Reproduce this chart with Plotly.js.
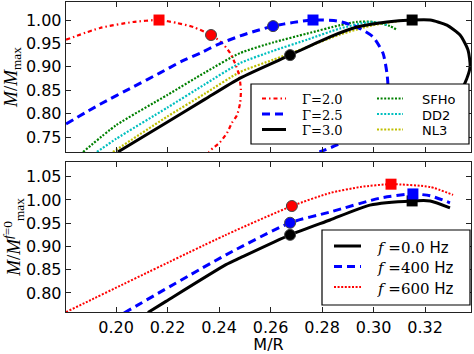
<!DOCTYPE html>
<html>
<head>
<meta charset="utf-8">
<script src="https://cdn.plot.ly/plotly-3.0.1.min.js"></script>
<style>html,body{margin:0;padding:0;background:#fff;}#chart{width:474px;height:354px;}</style>
</head>
<body>
<div id="chart"></div>
<script>
// ---------- data: top panel (M/Mmax vs compactness) ----------
const g20X = [0.1806, 0.1938, 0.2066, 0.2167, 0.2237, 0.2300, 0.2369, 0.2412, 0.2443, 0.2462, 0.2478, 0.2485, 0.2482, 0.2470, 0.2450, 0.2431, 0.2404, 0.2377, 0.2360];
const g20Y = [0.958, 0.983, 0.9957, 1.000, 0.9936, 0.985, 0.968, 0.951, 0.9295, 0.908, 0.8825, 0.850, 0.8226, 0.797, 0.780, 0.7585, 0.739, 0.7265, 0.718];
const g25X = [0.1806, 0.1938, 0.2066, 0.2171, 0.2252, 0.2330, 0.2392, 0.2482, 0.2545, 0.2610, 0.2690, 0.2765, 0.2858, 0.2936, 0.2998, 0.3037, 0.3052, 0.3056, 0.3050, 0.3020, 0.2960, 0.2858, 0.2790];
const g25Y = [0.778, 0.820, 0.857, 0.887, 0.911, 0.930, 0.947, 0.966, 0.977, 0.987, 0.995, 1.000, 0.998, 0.985, 0.964, 0.929, 0.887, 0.860, 0.830, 0.795, 0.763, 0.733, 0.718];
const g30X = [0.2007, 0.2200, 0.2346, 0.2482, 0.2676, 0.2831, 0.2936, 0.3052, 0.3150, 0.3220, 0.3285, 0.3336, 0.3367, 0.3375, 0.3355, 0.3320, 0.3270];
const g30Y = [0.718, 0.782, 0.831, 0.876, 0.925, 0.964, 0.985, 0.996, 1.000, 1.000, 0.989, 0.968, 0.936, 0.900, 0.865, 0.830, 0.800];
const sfhoX = [0.1872, 0.2000, 0.2200, 0.2346, 0.2482, 0.2610, 0.2742, 0.2870, 0.2936, 0.2998, 0.3064, 0.3091];
const sfhoY = [0.718, 0.775, 0.840, 0.888, 0.9295, 0.952, 0.971, 0.989, 0.996, 0.996, 0.987, 0.979];
const dd2X = [0.1926, 0.2000, 0.2200, 0.2346, 0.2482, 0.2610, 0.2742, 0.2870, 0.2975, 0.3025, 0.3056];
const dd2Y = [0.718, 0.746, 0.813, 0.863, 0.908, 0.934, 0.958, 0.982, 0.995, 0.994, 0.989];
const nl3X = [0.1988, 0.2200, 0.2346, 0.2482, 0.2610, 0.2742, 0.2870, 0.2998, 0.3103, 0.3150, 0.3180];
const nl3Y = [0.718, 0.794, 0.843, 0.889, 0.915, 0.942, 0.969, 0.989, 0.998, 1.000, 1.000];
// markers (circle, square) for each Gamma curve
const g20MarkX = [0.2369], g20MarkY = [0.968], g20SqX = [0.2167], g20SqY = [1.000];
const g25MarkX = [0.2610], g25MarkY = [0.987], g25SqX = [0.2765], g25SqY = [1.000];
const g30MarkX = [0.2676], g30MarkY = [0.925], g30SqX = [0.3150], g30SqY = [1.000];

// ---------- data: bottom panel (rotating sequences) ----------
const f0X = [0.2124, 0.2194, 0.2427, 0.2482, 0.2676, 0.2831, 0.2986, 0.3150, 0.3220, 0.3297];
const f0Y = [0.758, 0.782, 0.861, 0.8755, 0.925, 0.957, 0.989, 0.998, 0.998, 0.983];
const f400X = [0.2031, 0.2427, 0.2676, 0.2831, 0.3025, 0.3153, 0.3220, 0.3297];
const f400Y = [0.757, 0.882, 0.951, 0.974, 1.004, 1.013, 1.009, 0.994];
const f600X = [0.1806, 0.2427, 0.2683, 0.2831, 0.2950, 0.3068, 0.3220, 0.3309];
const f600Y = [0.759, 0.925, 0.987, 1.015, 1.028, 1.034, 1.028, 1.011];
const f0MarkX = [0.2676], f0MarkY = [0.925], f0SqX = [0.3150], f0SqY = [0.998];
const f400MarkX = [0.2676], f400MarkY = [0.951], f400SqX = [0.3153], f400SqY = [1.013];
const f600MarkX = [0.2683], f600MarkY = [0.987], f600SqX = [0.3068], f600SqY = [1.034];

// tick labels
const xTicks = [0.20, 0.22, 0.24, 0.26, 0.28, 0.30, 0.32];
const xTickText = ['0.20', '0.22', '0.24', '0.26', '0.28', '0.30', '0.32'];
const yTopTicks = [0.75, 0.80, 0.85, 0.90, 0.95, 1.00];
const yTopText = ['0.75', '0.80', '0.85', '0.90', '0.95', '1.00'];
const yBotTicks = [0.80, 0.85, 0.90, 0.95, 1.00, 1.05];
const yBotText = ['0.80', '0.85', '0.90', '0.95', '1.00', '1.05'];

// legend labels
const topLegendLeft = ['Γ=2.0', 'Γ=2.5', 'Γ=3.0'];
const topLegendRight = ['SFHo', 'DD2', 'NL3'];
const botLegendLabels = ['<i>f</i> =0.0', '<i>f</i> =400', '<i>f</i> =600'];

// ---------- styles ----------
const RED = '#ff0000', BLUE = '#0000ff', BLACK = '#000000', GREEN = '#008000', CYAN = '#00bfbf', YELLOW = '#bfbf00';
const DASHDOT = '4px,3px,1.5px,3px', DASH = '8px,5px', DOTS = '2px,1.6px';

function line(x, y, color, width, dash, xa, ya) {
  return {x: x, y: y, type: 'scatter', mode: 'lines', xaxis: xa, yaxis: ya, showlegend: false,
    hoverinfo: 'skip', line: {color: color, width: width, dash: dash, shape: 'spline', smoothing: 0.6}};
}
function mark(x, y, color, symbol, size, xa, ya) {
  return {x: x, y: y, type: 'scatter', mode: 'markers', xaxis: xa, yaxis: ya, showlegend: false,
    hoverinfo: 'skip', marker: {color: color, symbol: symbol, size: size,
      line: {color: symbol === 'circle' ? '#444' : color, width: symbol === 'circle' ? 1 : 0}}};
}

const traces = [
  line(sfhoX, sfhoY, GREEN, 2.2, DOTS, 'x', 'y'),
  line(dd2X, dd2Y, CYAN, 2.2, DOTS, 'x', 'y'),
  line(nl3X, nl3Y, YELLOW, 2.2, DOTS, 'x', 'y'),
  line(g20X, g20Y, RED, 2.2, DASHDOT, 'x', 'y'),
  line(g25X, g25Y, BLUE, 3, DASH, 'x', 'y'),
  line(g30X, g30Y, BLACK, 3, 'solid', 'x', 'y'),
  mark(g20MarkX, g20MarkY, RED, 'circle', 11, 'x', 'y'),
  mark(g20SqX, g20SqY, RED, 'square', 11, 'x', 'y'),
  mark(g25MarkX, g25MarkY, BLUE, 'circle', 11, 'x', 'y'),
  mark(g25SqX, g25SqY, BLUE, 'square', 11, 'x', 'y'),
  mark(g30MarkX, g30MarkY, BLACK, 'circle', 11, 'x', 'y'),
  mark(g30SqX, g30SqY, BLACK, 'square', 11, 'x', 'y'),

  line(f600X, f600Y, RED, 2, DOTS, 'x2', 'y2'),
  line(f400X, f400Y, BLUE, 3, DASH, 'x2', 'y2'),
  line(f0X, f0Y, BLACK, 3, 'solid', 'x2', 'y2'),
  mark(f0MarkX, f0MarkY, BLACK, 'circle', 11, 'x2', 'y2'),
  mark(f0SqX, f0SqY, BLACK, 'square', 11, 'x2', 'y2'),
  mark(f400MarkX, f400MarkY, BLUE, 'circle', 11, 'x2', 'y2'),
  mark(f400SqX, f400SqY, BLUE, 'square', 11, 'x2', 'y2'),
  mark(f600MarkX, f600MarkY, RED, 'circle', 11, 'x2', 'y2'),
  mark(f600SqX, f600SqY, RED, 'square', 11, 'x2', 'y2')
];

// ---------- layout ----------
const ML = 66, MR = 3, MT = 2, MB = 42, W = 474, H = 354;
const PW = W - ML - MR, PH = H - MT - MB;
const px = v => (v - ML) / PW;            // pixel x -> paper
const py = v => (H - MB - v) / PH;        // pixel y -> paper

const axisCommon = {
  showline: true, linecolor: '#222', linewidth: 1.3, mirror: 'ticks',
  ticks: 'inside', ticklen: 5, tickwidth: 1, tickcolor: '#222',
  showgrid: false, zeroline: false,
  tickfont: {family: 'DejaVu Sans', size: 16, color: '#000'}
};
const xRange = [0.18058, 0.33786];

const shapes = [], annotations = [];
function legendBox(x0, x1, y0, y1) {
  shapes.push({type: 'rect', xref: 'paper', yref: 'paper', x0: px(x0), x1: px(x1), y0: py(y1), y1: py(y0),
    fillcolor: '#fff', line: {color: '#000', width: 1.2}, layer: 'above'});
}
function legendLine(x0, x1, y, color, width, dash) {
  shapes.push({type: 'line', xref: 'paper', yref: 'paper', x0: px(x0), x1: px(x1), y0: py(y), y1: py(y),
    line: {color: color, width: width, dash: dash}, layer: 'above'});
}
function legendText(x, y, text, family, size, h) {
  annotations.push({xref: 'paper', yref: 'paper', x: px(x), y: py(y), xanchor: 'left', yanchor: 'middle',
    text: text, showarrow: false, height: h, valign: 'middle', borderpad: 0,
    font: {family: family, size: size, color: '#000'}});
}

// top legend
legendBox(251, 469, 84, 144);
const topRows = [98.5, 114, 129.5];
const topLeftStyles = [[RED, 2.2, DASHDOT], [BLUE, 3, DASH], [BLACK, 3, 'solid']];
const topRightStyles = [[GREEN, 2.2, DOTS], [CYAN, 2.2, DOTS], [YELLOW, 2.2, DOTS]];
topRows.forEach((y, i) => {
  legendLine(262, 286, y, topLeftStyles[i][0], topLeftStyles[i][1], topLeftStyles[i][2]);
  legendText(301, y + 1, topLegendLeft[i], 'DejaVu Serif', 13, 15);
  legendLine(377, 403, y, topRightStyles[i][0], topRightStyles[i][1], topRightStyles[i][2]);
  legendText(421, y + 1, topLegendRight[i], 'DejaVu Sans', 13, 15);
});

// bottom legend
legendBox(322, 470, 230, 305);
const botRows = [246, 266.5, 287];
const botStyles = [[BLACK, 3, 'solid'], [BLUE, 3, DASH], [RED, 2, DOTS]];
botRows.forEach((y, i) => {
  legendLine(334, 361, y, botStyles[i][0], botStyles[i][1], botStyles[i][2]);
  legendText(376, y + 1, botLegendLabels[i] + ' <span style="font-family:DejaVu Sans">Hz</span>', 'DejaVu Serif', 15, 19);
});

const layout = {
  width: W, height: H,
  margin: {l: ML, r: MR, t: MT, b: MB, pad: 0},
  paper_bgcolor: '#fff', plot_bgcolor: '#fff',
  showlegend: false,
  xaxis: Object.assign({}, axisCommon, {domain: [0, 1], range: xRange, anchor: 'y',
    tickvals: xTicks, ticktext: xTickText, showticklabels: false}),
  yaxis: Object.assign({}, axisCommon, {domain: [py(152), 1], range: [0.718, 1.0385], anchor: 'x',
    tickvals: yTopTicks, ticktext: yTopText,
    title: {text: '<i>M</i>/<i>M</i><sub>max</sub>', standoff: 4,
      font: {family: 'Liberation Serif', size: 19, color: '#000'}}}),
  xaxis2: Object.assign({}, axisCommon, {domain: [0, 1], range: xRange, anchor: 'y2', matches: 'x',
    tickvals: xTicks, ticktext: xTickText,
    title: {text: 'M/R', standoff: 3, font: {family: 'DejaVu Sans', size: 16, color: '#000'}}}),
  yaxis2: Object.assign({}, axisCommon, {domain: [0, py(162)], range: [0.7591, 1.0817], anchor: 'x2',
    tickvals: yBotTicks, ticktext: yBotText,
    title: {text: '<i>M</i>/<i>M</i><sup><i>f</i>=0</sup><sub>max</sub>', standoff: 4,
      font: {family: 'Liberation Serif', size: 19, color: '#000'}}}),
  shapes: shapes,
  annotations: annotations
};

Plotly.newPlot('chart', traces, layout, {staticPlot: true, displayModeBar: false});
</script>
</body>
</html>
